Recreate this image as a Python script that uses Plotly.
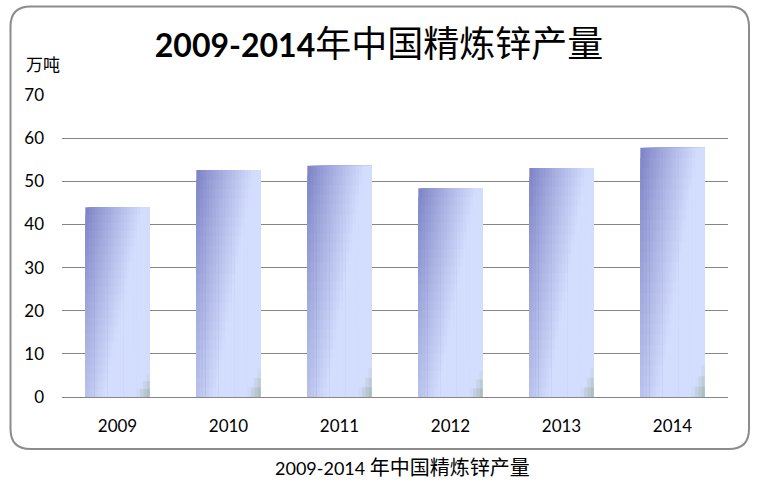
import plotly.graph_objects as go

years = ["2009", "2010", "2011", "2012", "2013", "2014"]
output = [44.0, 52.6, 53.6, 48.4, 53.1, 57.8]
title_num = "2009-2014"
title_cn = "年中国精炼锌产量"
unit_label = "万吨"
caption_num = "2009-2014"
caption_cn = "年中国精炼锌产量"
y_ticks = [0, 10, 20, 30, 40, 50, 60, 70]

W, H = 761, 484
ML, MR, MT, MB = 62, 33, 95, 87
PW, PH = W - ML - MR, H - MT - MB

BAR_W = 0.58
NC, NR = 20, 24
DARK = (122, 128, 196)
LIGHT = (211, 221, 253)
GREEN = (135, 158, 130)


def mix(a, b, t):
    return tuple(a[k] + (b[k] - a[k]) * t for k in range(3))


def cell_color(u, v):
    # u: 0 left -> 1 right ; v: 0 top -> 1 bottom
    s = u + 0.6 * v
    t = min(1.0, s / 0.9)
    t = t ** 0.9
    c = mix(DARK, LIGHT, t)
    g = max(0.0, (0.6 * u + v) - 1.46) / 0.14
    if g > 0:
        c = mix(c, GREEN, min(1.0, g) * 0.65)
    return "rgb(%d,%d,%d)" % tuple(int(round(x)) for x in c)


fig = go.Figure()
# each cell spans from its column's left edge to the bar's right edge and
# from 0 up to its row's top; later traces overlap earlier ones (no seams)
for i in range(NC):
    u = (i + 0.5) / NC
    for j in reversed(range(NR)):
        v = 1 - (j + 0.5) / NR
        fig.add_trace(go.Bar(
            x=years,
            y=[val * (j + 1) / NR for val in output],
            width=BAR_W * (NC - i) / NC,
            offset=-BAR_W / 2 + i * BAR_W / NC,
            marker=dict(color=cell_color(u, v), line=dict(width=0)),
            hoverinfo="skip",
            showlegend=False,
        ))


def px(xp):
    return (xp - ML) / PW


def py(yp):
    return (H - MB - yp) / PH


x0, x1, y0, y1, r = 10.5, 749, 6.5, 449, 20
path = (
    f"M {px(x0 + r)},{py(y0)} L {px(x1 - r)},{py(y0)} "
    f"Q {px(x1)},{py(y0)} {px(x1)},{py(y0 + r)} "
    f"L {px(x1)},{py(y1 - r)} Q {px(x1)},{py(y1)} {px(x1 - r)},{py(y1)} "
    f"L {px(x0 + r)},{py(y1)} Q {px(x0)},{py(y1)} {px(x0)},{py(y1 - r)} "
    f"L {px(x0)},{py(y0 + r)} Q {px(x0)},{py(y0)} {px(x0 + r)},{py(y0)} Z"
)
fig.add_shape(type="path", path=path, xref="paper", yref="paper",
              line=dict(color="#8c8c8c", width=2), layer="below")

FONT = "Lato, 'Noto Sans CJK SC', sans-serif"

title_html = ("<b>" + title_num + "</b>"
              + "<span style='font-size:36px'>" + title_cn + "</span>")
caption_html = (caption_num + " "
                + "<span style='font-size:20px'>" + caption_cn + "</span>")

fig.update_layout(
    width=W, height=H,
    margin=dict(l=ML, r=MR, t=MT, b=MB),
    paper_bgcolor="white", plot_bgcolor="rgba(0,0,0,0)",
    barmode="overlay",
    font=dict(family=FONT, color="black"),
    title=dict(text=title_html, x=px(379), xanchor="center", xref="paper",
               y=1 - 46 / H, yanchor="middle",
               font=dict(size=32, family=FONT, color="black")),
    xaxis=dict(showgrid=False, showline=False, ticks="",
               tickfont=dict(size=17), ticklabelstandoff=17),
    yaxis=dict(range=[0, 70], tickvals=y_ticks, showgrid=True,
               gridcolor="#868686", gridwidth=1.3, zeroline=True,
               zerolinecolor="#868686", zerolinewidth=1.3, showline=False,
               ticks="", tickfont=dict(size=17), ticklabelstandoff=17),
    annotations=[
        dict(text=unit_label, xref="paper", yref="paper",
             x=px(24), y=py(65), xanchor="left", yanchor="middle",
             showarrow=False, font=dict(size=17, family=FONT)),
        dict(text=caption_html, xref="paper", yref="paper",
             x=px(403), y=py(467), xanchor="center", yanchor="middle",
             showarrow=False, font=dict(size=18, family=FONT)),
    ],
)

fig.write_html("out.html")
